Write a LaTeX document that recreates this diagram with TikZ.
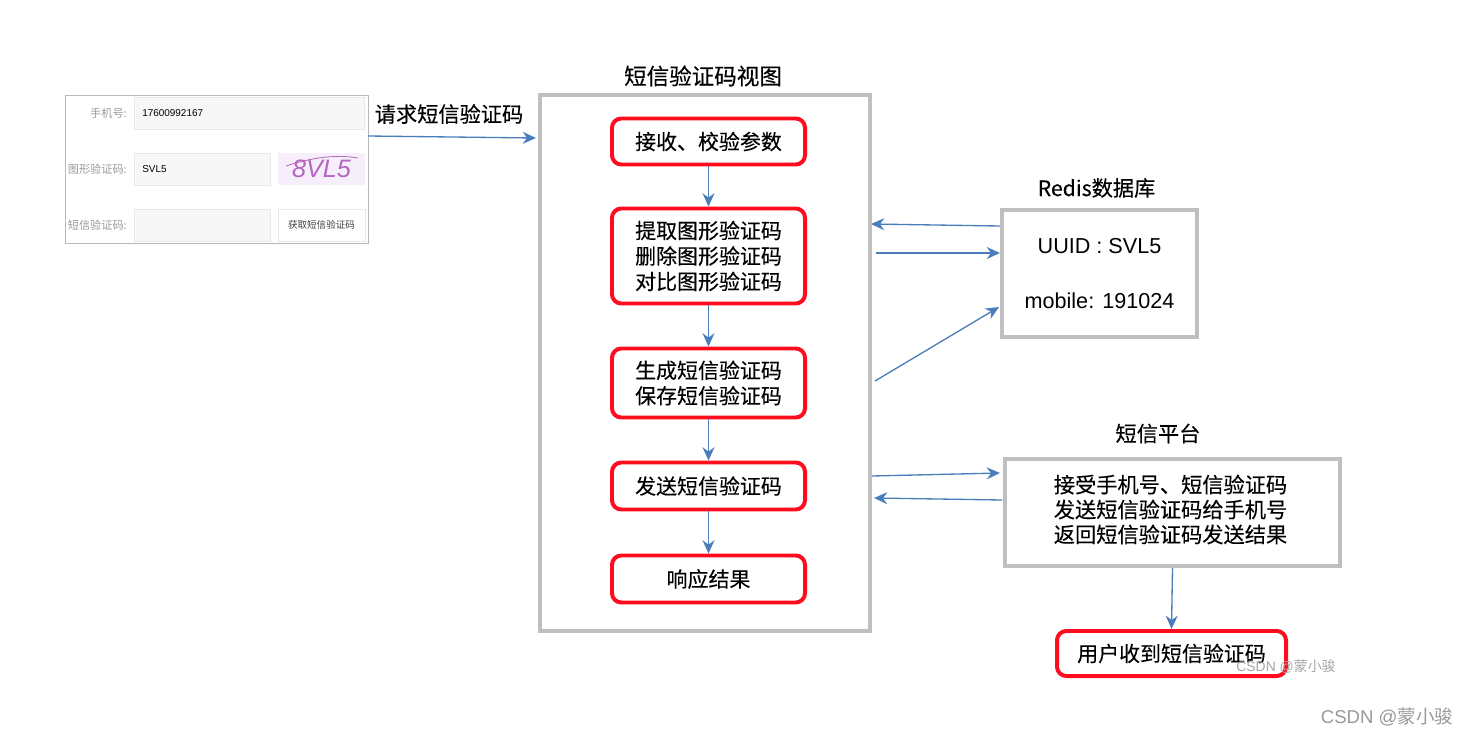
\documentclass[tikz,border=0pt]{standalone}
\usepackage{fontspec}
\usetikzlibrary{arrows.meta}
\setmainfont{Noto Sans CJK SC}[FakeBold=0.25]
\newfontfamily\latinfont{Liberation Sans}
\newfontfamily\plainfont{Noto Sans CJK SC}
\definecolor{flowblue}{HTML}{4A7EBB}
\definecolor{framegray}{HTML}{BFBFBF}
\definecolor{stepred}{HTML}{FF0D1F}
\definecolor{fieldgray}{HTML}{F7F7F7}
\definecolor{fieldline}{HTML}{E8E8E8}
\definecolor{captchabg}{HTML}{F7EEFB}
\definecolor{captchaink}{HTML}{B565C0}
\def\px{0.0265cm}
\tikzset{
	flow/.style={draw=flowblue,line width=1pt,-{Stealth[length=10pt,width=9pt]}},
	frame/.style={draw=framegray,line width=3pt,fill=white,inner sep=0pt,align=center},
	stepbox/.style={draw=stepred,line width=3pt,fill=white,rounded corners=7pt,inner sep=0pt,align=center,minimum width=193*\px,font=\fontsize{15.8}{19.2}\selectfont},
	title/.style={font=\fontsize{16}{19}\selectfont},
	field/.style={draw=fieldline,line width=.6pt,fill=fieldgray,inner sep=0pt,minimum height=32*\px},
	formlabel/.style={text=black!40,font=\plainfont\fontsize{8.4}{9}\selectfont,anchor=east,inner sep=0pt},
	formtext/.style={font=\latinfont\fontsize{7.5}{9}\selectfont,anchor=west,inner sep=0pt}
}
\begin{document}
\begin{tikzpicture}[x=\px,y=-\px]
	%%%%% START %%%%%
	\useasboundingbox (0,0) rectangle (1468,736);

	% form on the left
	\node[draw=black!28,line width=.7pt,minimum width=303*\px,minimum height=148*\px,inner sep=0pt] (form) at (216.5,169) {};
	\node[field,minimum width=230*\px] (phone) at (249,113) {};
	\node[field,minimum width=136*\px] (captcha) at (202,169) {};
	\node[field,minimum width=136*\px] (code) at (202,225) {};
	\node[fill=captchabg,minimum width=87*\px,minimum height=32*\px,inner sep=0pt,text=captchaink,font=\latinfont\itshape\fontsize{19}{19}\selectfont] (picture) at (321.5,169) {8VL5};
	\draw[captchaink,line width=.6pt] (286,166) .. controls (310,158) and (335,154) .. (358,158);
	\node[draw=fieldline,line width=.6pt,fill=white,minimum width=87*\px,minimum height=32*\px,inner sep=0pt,font=\plainfont\fontsize{7.2}{9}\selectfont,text=black!75] (getcode) at (321.5,225) {获取短信验证码};
	\node[formlabel] (phonelabel) at (127,113) {手机号:};
	\node[formlabel] (captchalabel) at (127,169) {图形验证码:};
	\node[formlabel] (codelabel) at (127,225) {短信验证码:};
	\node[formtext] (phonetext) at (142,113.5) {17600992167};
	\node[formtext] (captchatext) at (142,169.5) {SVL5};

	% main view
	\node[frame,minimum width=330*\px,minimum height=536*\px] (view) at (705,363) {};
	\node[font=\fontsize{17}{19}\selectfont] (viewtitle) at (703,76) {短信验证码视图};
	\node[title] (reqtitle) at (449,114) {请求短信验证码};

	\node[stepbox,minimum height=46*\px] (check) at (708.5,141.5) {接收、校验参数};
	\node[stepbox,minimum height=95*\px] (image) at (708.5,256) {提取图形验证码\\删除图形验证码\\对比图形验证码};
	\node[stepbox,minimum height=69*\px] (save) at (708.5,383) {生成短信验证码\\保存短信验证码};
	\node[stepbox,minimum height=47*\px] (send) at (708.5,486) {发送短信验证码};
	\node[stepbox,minimum height=47*\px] (result) at (708.5,579) {响应结果};

	% redis
	\node[frame,minimum width=195*\px,minimum height=127*\px,font=\latinfont\fontsize{16.3}{21}\selectfont] (redis) at (1099.5,273.5) {UUID : SVL5\\[21pt]mobile: 191024};
	\node[title] (redistitle) at (1096.5,188) {Redis数据库};

	% sms platform
	\node[frame,minimum width=335*\px,minimum height=107*\px] (sms) at (1172.5,512.5) {};
	\node[align=center,inner sep=0pt,font=\fontsize{16}{18.8}\selectfont] (smstext) at (1170.5,509.5) {接受手机号、短信验证码\\发送短信验证码给手机号\\返回短信验证码发送结果};
	\node[title] (smstitle) at (1158,433.5) {短信平台};
	\node[stepbox,minimum width=229*\px,minimum height=45*\px] (user) at (1171.5,653.5) {用户收到短信验证码};

	% free ends of the arrows
	\coordinate (formout) at (368,136);
	\coordinate (viewin) at (536,138);
	\coordinate (redisa) at (1000,226);
	\coordinate (viewa) at (871,224);
	\coordinate (viewb) at (876,253);
	\coordinate (redisb) at (1000,253);
	\coordinate (viewc) at (875,381);
	\coordinate (redisc) at (999,307);
	\coordinate (viewd) at (872,476);
	\coordinate (smsd) at (1000,473);
	\coordinate (smse) at (1002,500);
	\coordinate (viewe) at (874,498);

	\draw[flow] (formout) -- (viewin);
	\draw[flow] (check) -- (image);
	\draw[flow] (image) -- (save);
	\draw[flow] (save) -- (send);
	\draw[flow] (send) -- (result);
	\draw[flow] (redisa) -- (viewa);
	\draw[flow] (viewb) -- (redisb);
	\draw[flow] (viewc) -- (redisc);
	\draw[flow] (viewd) -- (smsd);
	\draw[flow] (smse) -- (viewe);
	\draw[flow] (sms.south) -- (user.north);

	% watermarks
	\node[text=black!35,font=\latinfont\fontsize{10.5}{12}\selectfont] (markone) at (1286,666.5) {CSDN @{\plainfont 蒙小骏}};
	\node[text=black!40,font=\latinfont\fontsize{14}{16}\selectfont] (marktwo) at (1387,717) {CSDN @{\plainfont 蒙小骏}};
	%%%%% END %%%%%
\end{tikzpicture}
\end{document}
